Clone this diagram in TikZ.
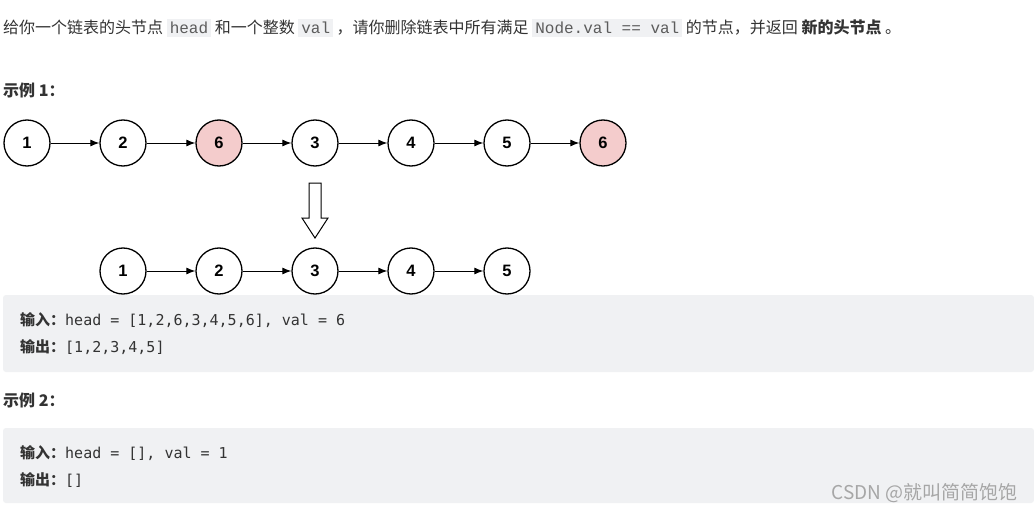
\documentclass[tikz,border=0pt]{standalone}
\usepackage{fontspec}
\setmainfont{Noto Sans CJK SC}
\setmonofont{DejaVu Sans Mono}
\newfontfamily\lfont{Liberation Mono}
\newfontfamily\afont{Liberation Sans}
\definecolor{codebg}{HTML}{F0F1F3}
\definecolor{pinkfill}{HTML}{F4CCCC}
\definecolor{txt}{HTML}{333333}
\newcommand{\icode}[1]{{\setlength{\fboxsep}{3pt}\colorbox{codebg}{\lfont\color{txt!80}#1}}}
\tikzset{x=1pt,y=-1pt,
 ln/.style={circle,draw,line width=1.3pt,minimum size=46pt,inner sep=0pt,font=\afont\bfseries\fontsize{16.5}{16}\selectfont},
 del/.style={ln,fill=pinkfill},
 lk/.style={-{Latex[length=9pt,width=7pt]},line width=1pt},
 box/.style={fill=codebg,rounded corners=3pt},
 tx/.style={anchor=west,inner sep=0pt,text=txt,font=\fontsize{16}{18}\selectfont},
 cd/.style={anchor=west,inner sep=0pt,text=txt,font=\fontsize{15}{18}\selectfont}}
\usetikzlibrary{arrows.meta}
\begin{document}
\begin{tikzpicture}
\useasboundingbox[fill=white] (0,0) rectangle (1034,511);
\node[tx] (t0) at (3,28) {给你一个链表的头节点 \icode{head} 和一个整数 \icode{val} ，请你删除链表中所有满足 \icode{Node.val == val} 的节点，并返回 \textbf{新的头节点} 。};
\node[tx,font=\bfseries\fontsize{16}{18}\selectfont] (e1) at (3,90) {示例 1：};
\foreach \v/\x/\s [count=\i] in {1/27/ln,2/123/ln,6/219/del,3/315/ln,4/411/ln,5/507/ln,6/603/del}
  \node[\s] (a\i) at (\x,143) {\v};
\foreach \i [evaluate=\i as \j using int(\i+1)] in {1,...,6} \draw[lk] (a\i) -- (a\j);
\foreach \v/\x [count=\i] in {1/123,2/219,3/315,4/411,5/507}
  \node[ln] (b\i) at (\x,271) {\v};
\foreach \i [evaluate=\i as \j using int(\i+1)] in {1,...,4} \draw[lk] (b\i) -- (b\j);
\draw[line width=1pt,line join=miter] (309,183) -- (321,183) -- (321,218) -- (328,218) -- (315,238) -- (302,218) -- (309,218) -- cycle;
\fill[box] (3,295) rectangle (1034,372);
\node[cd] (i1) at (20,320) {\textbf{输入：}\texttt{head = [1,2,6,3,4,5,6], val = 6}};
\node[cd] (o1) at (20,347) {\textbf{输出：}\texttt{[1,2,3,4,5]}};
\node[tx,font=\bfseries\fontsize{16}{18}\selectfont] (e2) at (3,400) {示例 2：};
\fill[box] (3,428) rectangle (1034,503);
\node[cd] (i2) at (20,453) {\textbf{输入：}\texttt{head = [], val = 1}};
\node[cd] (o2) at (20,480) {\textbf{输出：}\texttt{[]}};
\node[anchor=east,inner sep=0pt,text=gray!70,font=\fontsize{19}{20}\selectfont] (wm) at (1018,493) {CSDN @就叫简简饱饱};
\end{tikzpicture}
\end{document}
